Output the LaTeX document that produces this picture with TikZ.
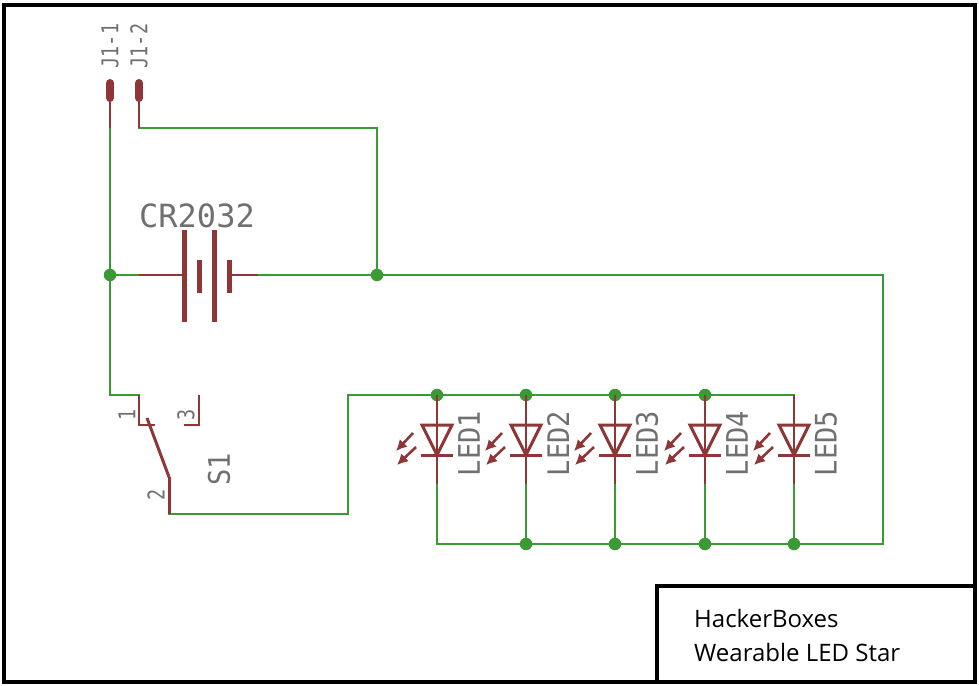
\documentclass[tikz,border=0pt]{standalone}
\usepackage{fontspec}
\setmonofont{DejaVu Sans Mono}
\setsansfont{Open Sans}
\usetikzlibrary{positioning}
\usetikzlibrary{arrows.meta}
\definecolor{netgreen}{HTML}{3C9A35}
\definecolor{symred}{HTML}{8F3636}
\definecolor{namegray}{HTML}{707070}
\tikzstyle{junction}=[circle,fill=netgreen,minimum size=12.5pt,inner sep=0pt]
\tikzstyle{wire} = [draw=netgreen,line width=2.6pt,line cap=rect]
\tikzstyle{lead} = [draw=symred,line width=2.6pt]
\tikzstyle{plate} = [draw=symred,line width=5pt]
\tikzstyle{frame} = [draw=black,line width=4pt]
\tikzstyle{partname} = [text=namegray,font=\ttfamily\fontsize{27}{27}\selectfont,inner sep=0pt,rotate=90,yscale=1.1]
\tikzstyle{pinname} = [text=namegray,font=\ttfamily\fontsize{18.5}{18.5}\selectfont,inner sep=0pt,rotate=90,yscale=1.25]
\tikzstyle{title} = [text=black,font=\sffamily\fontsize{24}{24}\selectfont,inner sep=0pt,anchor=base west]
\begin{document}
\begin{tikzpicture}[x=1pt,y=-1pt]
    \useasboundingbox (0,0) rectangle (979,685);

    \draw[frame] (4,5) rectangle (975,682);
    \draw[frame] (657,586) rectangle (975,682);
    \node[title] (brand) at (694,627) {HackerBoxes};
    \node[title] (project) at (694,661) {Wearable LED Star};

    % junctions
    \foreach \pos/\name in {{(110,275)/left}, {(377,275)/mid}, {(437,395)/topA}, {(526,395)/topB}, {(615,395)/topC}, {(705,395)/topD}, {(526,544)/botB}, {(615,544)/botC}, {(705,544)/botD}, {(794,544)/botE}}
        \node[junction] (\name) at \pos {};

    % corners and pin ends
    \foreach \pos/\name in {{(110,128)/jA}, {(139,128)/jB}, {(377,128)/jBr}, {(139,275)/batL}, {(258,275)/batR}, {(883,275)/farT}, {(883,544)/farB}, {(110,395)/swT}, {(139,395)/swA}, {(169,514)/swB}, {(348,514)/runB}, {(348,395)/runT}, {(794,395)/topE}, {(437,544)/botA}, {(437,484)/ledA}, {(526,484)/ledB}, {(615,484)/ledC}, {(705,484)/ledD}, {(794,484)/ledE}}
        \node[coordinate] (\name) at \pos {};

    \foreach \source/\dest in {jA/left, left/swT, swT/swA, jB/jBr, jBr/mid, left/batL, batR/mid, mid/farT, farT/farB, farB/botE, botE/botA, botA/ledA, botB/ledB, botC/ledC, botD/ledD, botE/ledE, swB/runB, runB/runT, runT/topE}
        \path[wire] (\source.center) -- (\dest.center);

    % connector J1
    \foreach \x/\name/\label in {110/jA/J1-1, 139/jB/J1-2}{
        \draw[lead] (\name.center) -- (\x,95);
        \draw[symred,line width=8pt,line cap=round] (\x,83) -- (\x,98);
        \node[pinname] (label\name) at (\x,46) {\label};
    }

    % battery
    \draw[lead] (batL.center) -- (184,275);
    \draw[lead] (batR.center) -- (229,275);
    \foreach \x/\a/\b in {184/230/322, 199/260/293, 214/230/322, 229/260/293}
        \draw[plate] (\x,\a) -- (\x,\b);
    \node[text=namegray,font=\ttfamily\fontsize{32}{32}\selectfont,inner sep=0pt] (battery) at (197,216) {CR2032};

    % switch
    \draw[lead] (swA.center) -- (139,425) -- (155,425);
    \draw[lead] (199,395) -- (199,425) -- (184,425);
    \draw[lead,line width=3pt] (147,418) -- (169,477);
    \draw[lead,line width=3pt] (swB.center) -- (169,477);
    \node[pinname] (swone) at (127,415) {1};
    \node[pinname] (swtwo) at (156,495) {2};
    \node[pinname] (swthree) at (186,415) {3};
    \node[partname] (switch) at (219,469) {S1};

    % leds
    \foreach \x/\top/\bot/\label in {437/topA/ledA/LED1, 526/topB/ledB/LED2, 615/topC/ledC/LED3, 705/topD/ledD/LED4, 794/topE/ledE/LED5}{
        \draw[lead] (\top.center) -- (\bot.center);
        \draw[lead,line width=3pt] (\x-15,425) -- (\x+15,425) -- (\x,455) -- cycle;
        \draw[lead,line width=3pt] (\x-16,455) -- (\x+16,455);
        \draw[lead,-{Latex[length=11pt,width=11pt]}] (\x-24,433) -- (\x-41,451);
        \draw[lead,-{Latex[length=11pt,width=11pt]}] (\x-21,447) -- (\x-40,465);
        \node[partname] (name\label) at (\x+32,443.5) {\label};
    }
\end{tikzpicture}
\end{document}
